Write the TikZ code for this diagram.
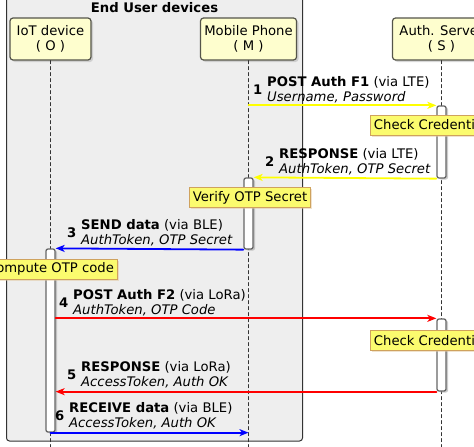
\documentclass[tikz,border=0pt]{standalone}
\usepackage{fontspec}
\setmainfont{DejaVu Sans}
\usetikzlibrary{arrows.meta,shadows,positioning}

\definecolor{groupFill}{HTML}{EEEEEE}
\definecolor{partFill}{HTML}{FEFECE}
\definecolor{partLine}{HTML}{55554A}
\definecolor{noteFill}{HTML}{FBFB6E}
\definecolor{noteLine}{HTML}{CFA25E}
\definecolor{msgYellow}{HTML}{FFFF00}
\definecolor{msgBlue}{HTML}{0000FF}
\definecolor{msgRed}{HTML}{FF0000}

% message label: name, arrow y, text x, number, bold part, channel, italic part
\newcommand\seqMsg[7]{%
	\node[msgnum, anchor=base east] (#1num) at (#3-4.5,#2-12) {#4};
	\node[msgtext, anchor=base west] (#1top) at (#3,#2-20) {\textbf{#5} (via #6)};
	\node[msgtext, anchor=base west] (#1bot) at (#3,#2-5) {\textit{#7}};}

\begin{document}
\begin{tikzpicture}[x=1pt, y=-1pt, line cap=round,
		every node/.style={font=\fontsize{13.2}{14.5}\selectfont, inner sep=0pt},
		group/.style={draw=black!80, fill=groupFill, rounded corners=3pt, line width=1pt},
		participant/.style={draw=partLine, fill=partFill, line width=1.2pt, rounded corners=3pt,
			minimum height=42pt, align=center,
			drop shadow={shadow xshift=2pt, shadow yshift=-2pt, fill=black!30}},
		lifeline/.style={draw=black!80, line width=1pt, dash pattern=on 3pt off 3pt},
		actbar/.style={draw=black!60, fill=white, line width=1.3pt, rounded corners=2pt,
			minimum width=9pt, drop shadow={shadow xshift=2pt, shadow yshift=-1.5pt, fill=black!40}},
		note/.style={draw=noteLine, fill=noteFill, line width=0.9pt, inner xsep=3.5pt,
			minimum height=20pt, drop shadow={shadow xshift=1.5pt, shadow yshift=-1.5pt, fill=noteLine!60}},
		msg/.style={line width=1.8pt, -{Stealth[length=9pt, width=7pt, inset=2.5pt]}},
		msgnum/.style={font=\fontsize{13.2}{14.5}\selectfont\bfseries},
		msgtext/.style={}]
	\useasboundingbox (0,0) rectangle (474,447);
	\clip (0,0) rectangle (474,447);

	% group
	\draw[group] (6.5,-4) rectangle (302.5,441);
	\node[anchor=base, font=\fontsize{13.2}{14.5}\selectfont\bfseries] (grptitle) at (154.5,12.5) {End User devices};

	% participants
	\node[participant, minimum width=81pt] (iot) at (50.5,39) {IoT device\\( O )};
	\node[participant, minimum width=96pt] (mob) at (248.5,39) {Mobile Phone\\( M )};
	\node[participant, minimum width=98pt] (srv) at (441.5,39) {Auth. Server\\( S )};

	% lifelines
	\draw[lifeline] (iot.south) -- (iot.south |- 0,460);
	\draw[lifeline] (mob.south) -- (mob.south |- 0,460);
	\draw[lifeline] (srv.south) -- (srv.south |- 0,460);

	% activation bars
	\node[actbar, minimum height=72pt] (barS1) at (441.5,142) {};
	\node[actbar, minimum height=71pt] (barM) at (248.5,213.5) {};
	\node[actbar, minimum height=183pt] (barO) at (50.5,340.5) {};
	\node[actbar, minimum height=72pt] (barS2) at (441.5,355) {};

	% messages
	\draw[msg, msgYellow] (barS1.north west -| mob.south) -- (barS1.north west);
	\draw[msg, msgYellow] (barS1.south west) -- (barM.north east);
	\draw[msg, msgBlue] (barM.south west) -- (barO.north east);
	\draw[msg, msgRed] (barS2.north west -| barO.east) -- (barS2.north west);
	\draw[msg, msgRed] (barS2.south west) -- (barS2.south west -| barO.east);
	\draw[msg, msgBlue] (barO.south) -- (barO.south -| mob.south);

	\seqMsg{m1}{106}{267}{1}{POST Auth F1}{LTE}{Username, Password}
	\seqMsg{m2}{178}{279}{2}{RESPONSE}{LTE}{AuthToken, OTP Secret}
	\seqMsg{m3}{249}{81}{3}{SEND data}{BLE}{AuthToken, OTP Secret}
	\seqMsg{m4}{319}{73}{4}{POST Auth F2}{LoRa}{AuthToken, OTP Code}
	\seqMsg{m5}{391}{81}{5}{RESPONSE}{LoRa}{AccessToken, Auth OK}
	\seqMsg{m6}{432}{69}{6}{RECEIVE data}{BLE}{AccessToken, Auth OK}

	% notes
	\node[note, anchor=west] (check1) at (370,125) {Check Credentials};
	\node[note] (verify) at (250,197.5) {Verify OTP Secret};
	\node[note] (compute) at (50.5,269) {Compute OTP code};
	\node[note, anchor=west] (check2) at (370,340.5) {Check Credentials};
\end{tikzpicture}
\end{document}
